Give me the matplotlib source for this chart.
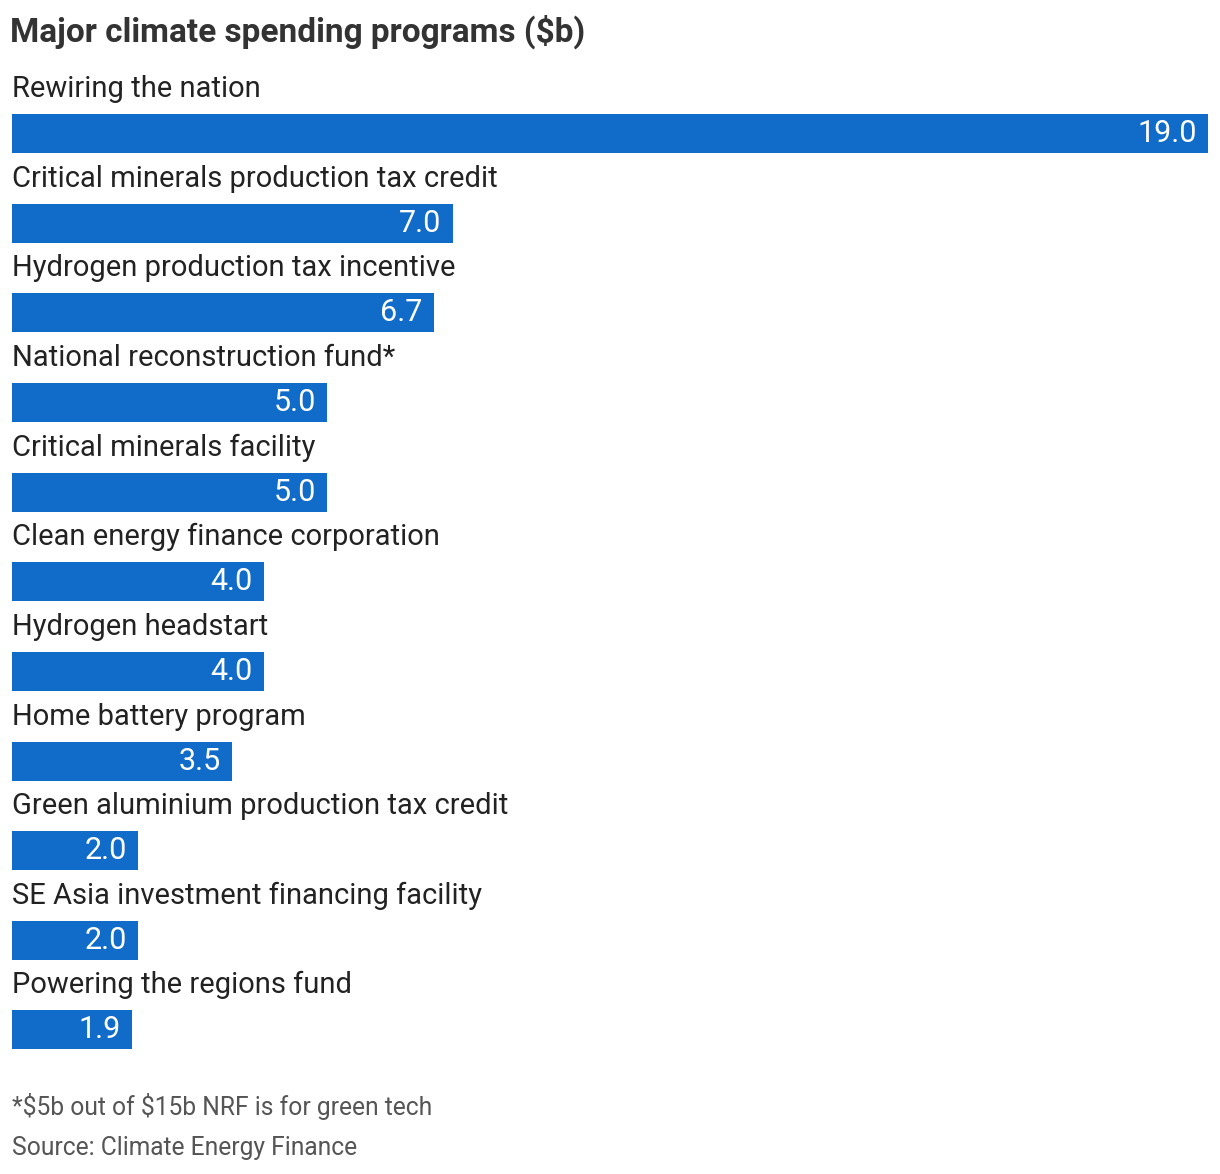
import matplotlib.pyplot as plt
import matplotlib

matplotlib.rcParams["font.family"] = ["Roboto", "DejaVu Sans"]

programs = ["Rewiring the nation",
            "Critical minerals production tax credit",
            "Hydrogen production tax incentive",
            "National reconstruction fund*",
            "Critical minerals facility",
            "Clean energy finance corporation",
            "Hydrogen headstart",
            "Home battery program",
            "Green aluminium production tax credit",
            "SE Asia investment financing facility",
            "Powering the regions fund"]
spending = [19.0, 7.0, 6.7, 5.0, 5.0, 4.0, 4.0, 3.5, 2.0, 2.0, 1.9]

title = r"Major climate spending programs (\$b)"
footnote = r"*\$5b out of \$15b NRF is for green tech"
source = "Source: Climate Energy Finance"

bar_color = "#106cc8"

fig = plt.figure(figsize=(12.2, 11.74), dpi=100)
ax = fig.add_axes([12 / 1220, 1 - 1074.8 / 1174, 1196 / 1220, 986.1 / 1174])

pos = list(range(len(programs)))
ax.barh(pos, spending, height=0.435, color=bar_color)
ax.set_xlim(0, 19)
ax.set_ylim(len(programs) - 0.5, -0.5)
ax.axis("off")

for i, (name, val) in enumerate(zip(programs, spending)):
    # category name sits above its bar
    ax.text(0, i - 0.407, name, ha="left", va="baseline", fontsize=21, color="#222222")
    ax.annotate("%.1f" % val, xy=(val, i), xytext=(-8, 0), textcoords="offset points",
                ha="right", va="center", fontsize=22, color="white")

fig.text(10 / 1220, 1 - 42 / 1174, title, ha="left", va="baseline",
         fontsize=24, fontweight="bold", color="#333333")
fig.text(12 / 1220, 1 - 1115 / 1174, footnote, ha="left", va="baseline",
         fontsize=17.7, color="#555555")
fig.text(12 / 1220, 1 - 1155 / 1174, source, ha="left", va="baseline",
         fontsize=17.7, color="#555555")

fig.savefig("out.png", dpi=100)
